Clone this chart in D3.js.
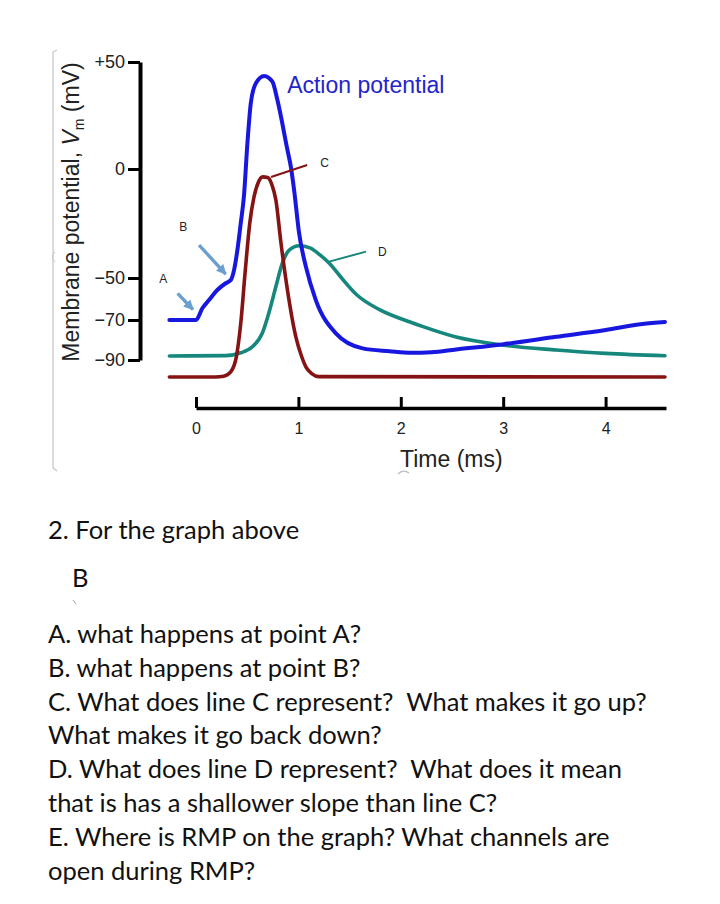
<!DOCTYPE html>
<html>
<head>
<meta charset="utf-8">
<script src="https://cdn.jsdelivr.net/npm/d3@7"></script>
<style>
  html, body { margin: 0; padding: 0; background: #fff; }
  svg { display: block; }
  .chart-text { font-family: "Liberation Sans", Arial, sans-serif; }
  .question { font-family: Lato, "Open Sans", sans-serif; fill: #111; white-space: pre; }
</style>
</head>
<body>
<svg id="figure" width="720" height="904"></svg>
<script>

// ===========
// DATA (time in ms, membrane potential in mV)
// ===========

const timeTicks = [0, 1, 2, 3, 4];
const mvTicks = [50, 0, -50, -70, -90];
const mvTickLabels = ["+50", "0", "\u221250", "\u221270", "\u221290"];

// blue trace - the action potential itself
const actionPotential = [
	[-0.26, -70], [0.0, -70], [0.062, -64.4], [0.127, -60.5], [0.208, -55.7], [0.29, -52.5],
	[0.34, -51], [0.372, -46.3], [0.404, -37.2], [0.437, -24.9], [0.469, -12], [0.502, 12],
	[0.535, 30.7], [0.584, 40], [0.665, 43.5], [0.746, 40.8], [0.795, 32.2], [0.893, 8.9],
	[0.926, 1.1], [0.958, -9.6], [1.007, -29.5], [1.073, -44.8], [1.17, -60.5], [1.366, -76.7],
	[1.627, -84.2], [1.89, -85.6], [2.1, -86.4], [2.3, -86.1], [2.54, -84.7], [2.99, -82.2],
	[3.52, -78.4], [4.0, -75], [4.36, -72], [4.58, -71]
];

// dark red trace - line C
const lineC = [
	[-0.26, -98.5], [0.19, -98.5], [0.27, -98.1], [0.339, -95.9], [0.394, -88.4], [0.437, -71.7],
	[0.479, -47.8], [0.525, -24.9], [0.567, -12.7], [0.61, -6], [0.65, -3.6], [0.70, -3.9],
	[0.74, -7], [0.78, -14.2], [0.83, -34], [0.893, -55.7], [0.975, -78.4], [1.03, -88],
	[1.073, -93.4], [1.13, -96.8], [1.2, -98.3], [4.58, -98.5]
];

// teal trace - line D
const lineD = [
	[-0.26, -88], [0.29, -87.8], [0.437, -86.4], [0.55, -83.4], [0.648, -76.5], [0.714, -66.2],
	[0.779, -54.3], [0.844, -43.1], [0.91, -37.2], [1.007, -35.2], [1.113, -36.2], [1.211, -39.4],
	[1.309, -43.6], [1.406, -49.1], [1.572, -58.1], [1.797, -65.2], [2.09, -71], [2.21, -73.2],
	[2.54, -78.5], [2.99, -82.5], [3.52, -85], [4.0, -86.7], [4.58, -87.9]
];

const questionTitle = "2. For the graph above";
const questionLines = [
	"A. what happens at point A?",
	"B. what happens at point B?",
	"C. What does line C represent?  What makes it go up?",
	"What makes it go back down?",
	"D. What does line D represent?  What does it mean",
	"that is has a shallower slope than line C?",
	"E. Where is RMP on the graph? What channels are",
	"open during RMP?"
];

// ===========
// SCALES
// ===========

const svg = d3.select("#figure");

const x = d3.scaleLinear()
	.domain([0, 4.59])
	.range([196, 666]);

// the printed axis is not quite even, so map the labelled ticks piecewise
const y = d3.scaleLinear()
	.domain([-90, -70, -50, 0, 50])
	.range([360, 320, 278, 169, 62]);

const blue = "#1717e0";
const maroon = "#861313";
const teal = "#15877c";
const arrowBlue = "#6c9ecf";

// faint border of the pasted picture
svg.append("path")
	.attr("d", "M57,50 L53,52 L53,468 L57,471")
	.attr("fill", "none")
	.attr("stroke", "#c4c4c4")
	.attr("stroke-width", 1.2);
svg.append("path")
	.attr("d", "M55,252 Q50,257 55,262")
	.attr("fill", "none")
	.attr("stroke", "#c8c8c8")
	.attr("stroke-width", 1);

// ============
// Y AXIS
// ============

const yAxis = svg.append("g")
	.attr("class", "chart-text")
	.attr("transform", "translate(140,0)")
	.call(d3.axisLeft(y)
		.tickValues(mvTicks)
		.tickFormat((d, i) => mvTickLabels[i])
		.tickSize(12)
		.tickPadding(3)
		.tickSizeOuter(0));

yAxis.select(".domain").attr("stroke", "#000").attr("stroke-width", 4);
yAxis.selectAll(".tick line").attr("stroke", "#000").attr("stroke-width", 3);
yAxis.selectAll(".tick text")
	.attr("font-size", 18)
	.attr("font-family", "Liberation Sans, Arial, sans-serif")
	.attr("fill", "#222");

const yTitle = svg.append("text")
	.attr("class", "chart-text")
	.attr("transform", "translate(79,212) rotate(-90)")
	.attr("text-anchor", "middle")
	.attr("font-size", 23)
	.attr("fill", "#222");
yTitle.append("tspan").text("Membrane potential, ");
yTitle.append("tspan").attr("font-style", "italic").text("V");
yTitle.append("tspan").attr("font-size", 14).attr("dy", 5).text("m");
yTitle.append("tspan").attr("dy", -5).text(" (mV)");

// ============
// X AXIS
// ============

const xAxis = svg.append("g")
	.attr("class", "chart-text")
	.attr("transform", "translate(0,408)")
	.call(d3.axisBottom(x)
		.tickValues(timeTicks)
		.tickFormat(d3.format("d"))
		.tickSize(-11)
		.tickPadding(15)
		.tickSizeOuter(0));

xAxis.select(".domain").attr("stroke", "#000").attr("stroke-width", 3.5);
xAxis.selectAll(".tick line").attr("stroke", "#000").attr("stroke-width", 3);
xAxis.selectAll(".tick text")
	.attr("font-size", 16)
	.attr("font-family", "Liberation Sans, Arial, sans-serif")
	.attr("fill", "#222");

svg.append("text")
	.attr("class", "chart-text")
	.attr("x", 400)
	.attr("y", 467)
	.attr("font-size", 23)
	.attr("fill", "#222")
	.text("Time (ms)");

svg.append("path")
	.attr("d", "M398,474 Q403,469 409,473")
	.attr("fill", "none")
	.attr("stroke", "#bbb")
	.attr("stroke-width", 1.2);

// ============
// TRACES
// ============

const line = d3.line()
	.x(d => x(d[0]))
	.y(d => y(d[1]))
	.curve(d3.curveMonotoneX);

const traces = [
	{ data: lineD, color: teal, width: 3.6 },
	{ data: lineC, color: maroon, width: 3.6 },
	{ data: actionPotential, color: blue, width: 4 }
];

svg.append("g")
	.selectAll("path")
	.data(traces)
	.enter()
	.append("path")
		.attr("d", d => line(d.data))
		.attr("fill", "none")
		.attr("stroke", d => d.color)
		.attr("stroke-width", d => d.width)
		.attr("stroke-linejoin", "round")
		.attr("stroke-linecap", "round");

// ============
// ANNOTATIONS (placed in data space)
// ============

svg.append("text")
	.attr("class", "chart-text")
	.attr("x", x(0.89))
	.attr("y", y(35.5))
	.attr("font-size", 23)
	.attr("fill", "#2424cc")
	.text("Action potential");

svg.append("defs").append("marker")
	.attr("id", "arrowhead")
	.attr("viewBox", "0 0 10 10")
	.attr("refX", 9)
	.attr("refY", 5)
	.attr("markerUnits", "userSpaceOnUse")
	.attr("markerWidth", 11)
	.attr("markerHeight", 10)
	.attr("orient", "auto")
	.append("path")
		.attr("d", "M0,0 L10,5 L0,10 z")
		.attr("fill", arrowBlue);

const arrows = [
	{ from: [-0.18, -57.3], to: [-0.03, -65] },
	{ from: [0.03, -34.9], to: [0.29, -48.2] }
];

svg.append("g")
	.selectAll("line")
	.data(arrows)
	.enter()
	.append("line")
		.attr("x1", d => x(d.from[0]))
		.attr("y1", d => y(d.from[1]))
		.attr("x2", d => x(d.to[0]))
		.attr("y2", d => y(d.to[1]))
		.attr("stroke", arrowBlue)
		.attr("stroke-width", 3.4)
		.attr("marker-end", "url(#arrowhead)");

const leaders = [
	{ from: [0.733, -3.7], to: [1.086, 1.9], color: maroon },
	{ from: [1.3, -42.5], to: [1.66, -37.9], color: teal }
];

svg.append("g")
	.selectAll("line")
	.data(leaders)
	.enter()
	.append("line")
		.attr("x1", d => x(d.from[0]))
		.attr("y1", d => y(d.from[1]))
		.attr("x2", d => x(d.to[0]))
		.attr("y2", d => y(d.to[1]))
		.attr("stroke", d => d.color)
		.attr("stroke-width", 2);

const pointLabels = [
	{ text: "A", at: [-0.32, -50.5] },
	{ text: "B", at: [-0.125, -26.6] },
	{ text: "C", at: [1.255, 2.8] },
	{ text: "D", at: [1.82, -38] }
];

svg.append("g")
	.selectAll("text")
	.data(pointLabels)
	.enter()
	.append("text")
		.attr("class", "chart-text")
		.attr("x", d => x(d.at[0]))
		.attr("y", d => y(d.at[1]))
		.attr("text-anchor", "middle")
		.attr("dy", "0.35em")
		.attr("font-size", 12)
		.attr("fill", "#222")
		.text(d => d.text);

// ============
// QUESTION TEXT
// ============

const qSize = 25.5;

svg.append("text")
	.attr("class", "question")
	.attr("x", 48)
	.attr("y", 539)
	.attr("font-size", qSize)
	.text(questionTitle);

svg.append("text")
	.attr("class", "question")
	.attr("x", 72)
	.attr("y", 587)
	.attr("font-size", qSize)
	.text("B");

svg.append("path")
	.attr("d", "M73,600 L76,604")
	.attr("stroke", "#9ab")
	.attr("stroke-width", 1);

svg.append("g")
	.selectAll("text")
	.data(questionLines)
	.enter()
	.append("text")
		.attr("class", "question")
		.attr("x", 48)
		.attr("y", (d, i) => 643 + i * 33.8)
		.attr("font-size", qSize)
		.text(d => d);

</script>
</body>
</html>
